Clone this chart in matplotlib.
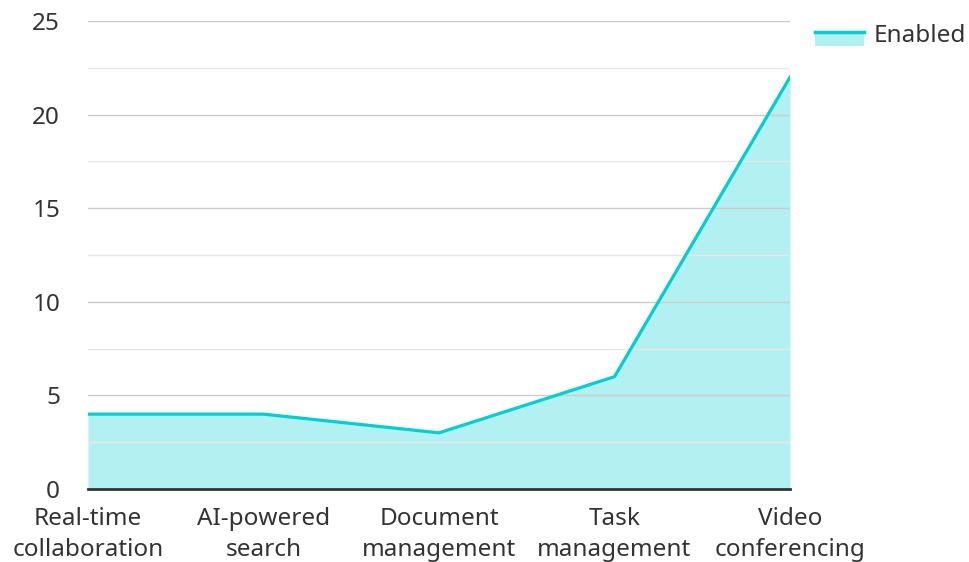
import matplotlib
matplotlib.use('Agg')
import matplotlib.pyplot as plt
from matplotlib.lines import Line2D
from matplotlib.patches import Rectangle
from matplotlib.legend_handler import HandlerBase
from matplotlib.ticker import MultipleLocator

plt.rcParams['font.family'] = ['Noto Sans', 'DejaVu Sans']

categories = ['Real-time\ncollaboration', 'AI-powered\nsearch', 'Document\nmanagement',
              'Task\nmanagement', 'Video\nconferencing']
enabled = [4, 4, 3, 6, 22]

line_color = '#00CED1'
text_color = '#333333'


class AreaHandler(HandlerBase):
    def create_artists(self, legend, orig_handle, xdescent, ydescent, width, height, fontsize, trans):
        top = height * 0.6 - ydescent
        bottom = -ydescent - height * 0.2
        rect = Rectangle((-xdescent, bottom), width, top - bottom,
                         facecolor=line_color, alpha=0.3, edgecolor='none', transform=trans)
        ln = Line2D([-xdescent, -xdescent + width], [top, top],
                    color=line_color, lw=2.5, transform=trans)
        return [rect, ln]


fig = plt.figure(figsize=(9.7, 5.62), dpi=100)
ax = fig.add_axes([88 / 970, 1 - 489 / 562, (790 - 88) / 970, (489 - 21) / 562])

x = list(range(len(categories)))
ax.fill_between(x, enabled, 0, color=line_color, alpha=0.3, lw=0, zorder=1)
ax.plot(x, enabled, color=line_color, lw=2.3, zorder=3)

ax.set_xlim(0, len(categories) - 1)
ax.set_ylim(0, 25)
ax.yaxis.set_major_locator(MultipleLocator(5))
ax.yaxis.set_minor_locator(MultipleLocator(2.5))
ax.grid(axis='y', which='major', color='#cccccc', lw=1, zorder=2)
ax.grid(axis='y', which='minor', color='#e6e6e6', lw=1, zorder=2)
ax.set_axisbelow(False)

ax.set_xticks(x)
ax.set_xticklabels(categories, linespacing=1.36)
ax.tick_params(axis='both', which='both', length=0, labelsize=17.5, colors=text_color)
ax.tick_params(axis='x', pad=13)
ax.tick_params(axis='y', pad=20)
for sp in ['top', 'right', 'left']:
    ax.spines[sp].set_visible(False)
ax.spines['bottom'].set_color('#333333')
ax.spines['bottom'].set_linewidth(2)
ax.spines['bottom'].set_zorder(4)

h = Line2D([], [], color=line_color)
leg = fig.legend([h], ['Enabled'], handler_map={Line2D: AreaHandler()},
                 loc='upper right', bbox_to_anchor=(1 + 8 / 970, 1 - 12 / 562), frameon=False,
                 borderaxespad=0.1, fontsize=17.5, handlelength=2.0, handletextpad=0.4,
                 labelcolor=text_color)

fig.savefig('out.png', dpi=100)
